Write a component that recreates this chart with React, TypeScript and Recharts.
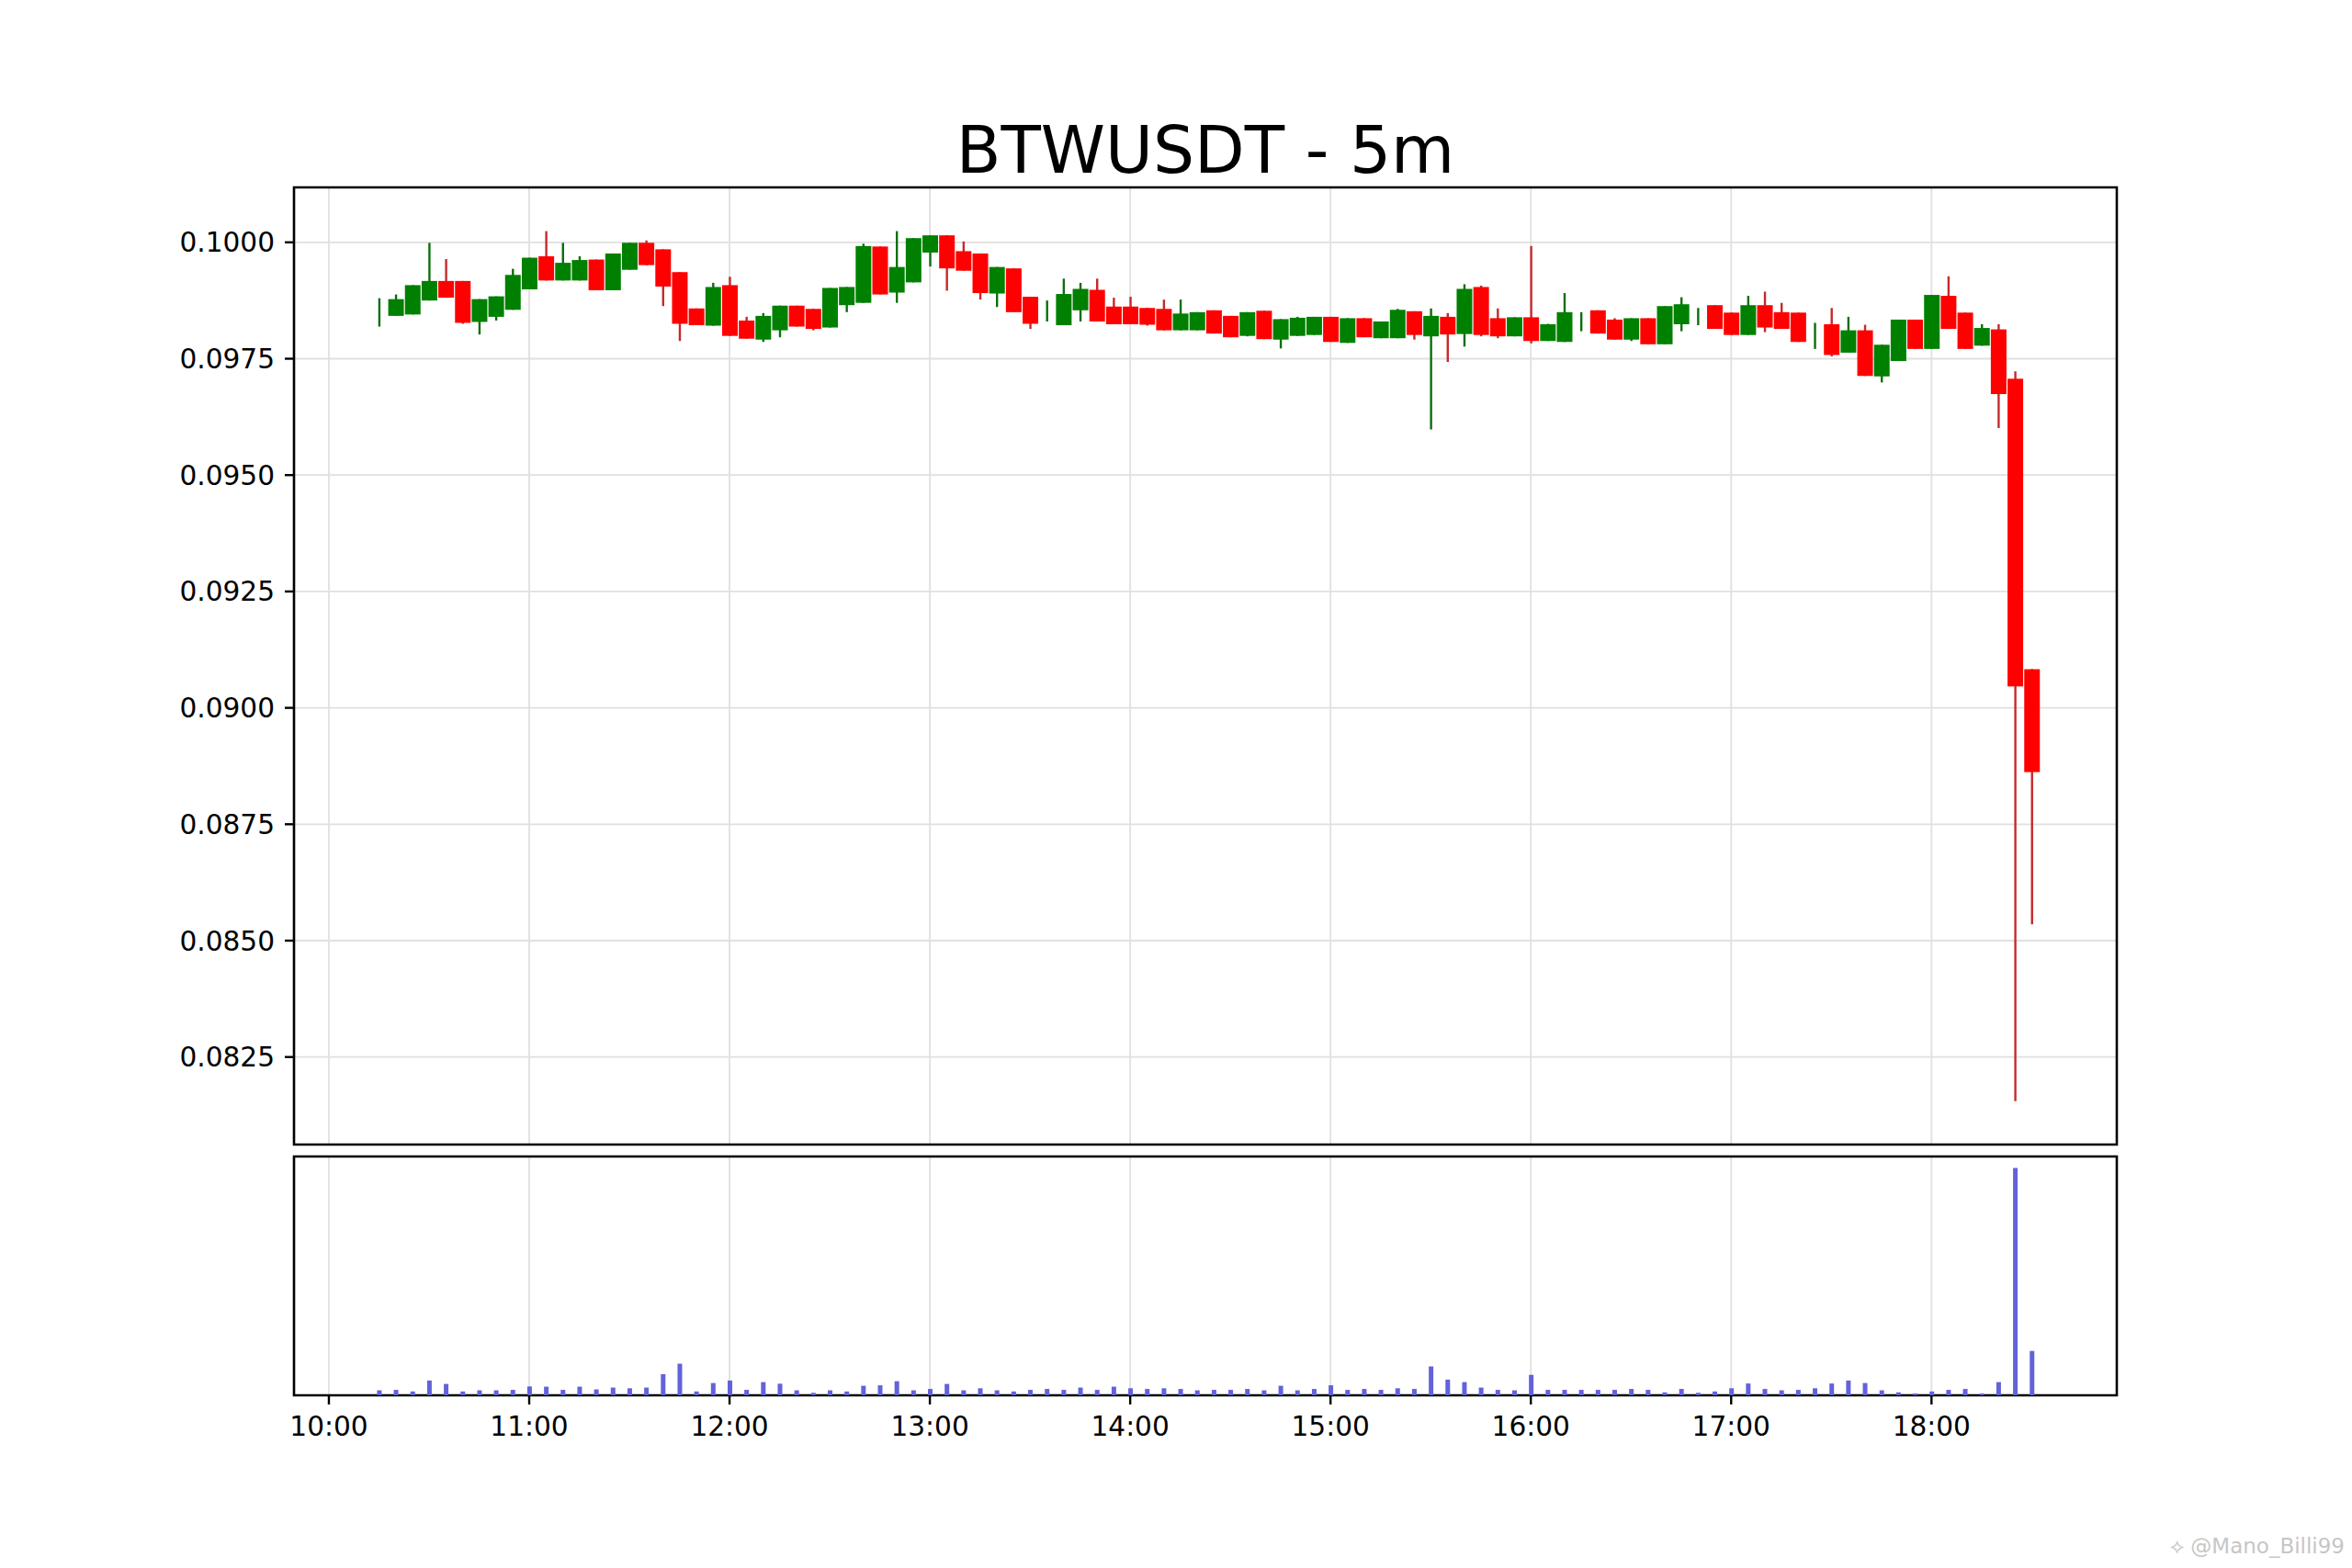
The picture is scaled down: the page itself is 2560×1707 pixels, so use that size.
import React from "react";
import { ComposedChart, Bar, XAxis, YAxis, CartesianGrid, ReferenceArea } from "recharts";

const times = [
  "10:15","10:20","10:25","10:30","10:35","10:40","10:45","10:50","10:55",
  "11:00","11:05","11:10","11:15","11:20","11:25","11:30","11:35","11:40","11:45","11:50","11:55",
  "12:00","12:05","12:10","12:15","12:20","12:25","12:30","12:35","12:40","12:45","12:50","12:55",
  "13:00","13:05","13:10","13:15","13:20","13:25","13:30","13:35","13:40","13:45","13:50","13:55",
  "14:00","14:05","14:10","14:15","14:20","14:25","14:30","14:35","14:40","14:45","14:50","14:55",
  "15:00","15:05","15:10","15:15","15:20","15:25","15:30","15:35","15:40","15:45","15:50","15:55",
  "16:00","16:05","16:10","16:15","16:20","16:25","16:30","16:35","16:40","16:45","16:50","16:55",
  "17:00","17:05","17:10","17:15","17:20","17:25","17:30","17:35","17:40","17:45","17:50","17:55",
  "18:00","18:05","18:10","18:15","18:20","18:25","18:30",
];

const opens = [
  0.09850,0.09842,0.09845,0.09875,0.09917,0.09917,0.09829,0.09840,0.09855,0.09899,
  0.09970,0.09918,0.09918,0.09963,0.09897,0.09941,0.09999,0.09985,0.09936,0.09858,
  0.09821,0.09908,0.09832,0.09791,0.09811,0.09864,0.09857,0.09817,0.09865,0.09870,
  0.09991,0.09892,0.09914,0.09978,0.10015,0.09981,0.09976,0.09890,0.09944,0.09883,
  0.09852,0.09822,0.09854,0.09898,0.09862,0.09862,0.09859,0.09857,0.09811,0.09811,
  0.09854,0.09842,0.09799,0.09853,0.09791,0.09799,0.09801,0.09840,0.09784,0.09837,
  0.09794,0.09794,0.09852,0.09798,0.09840,0.09803,0.09904,0.09837,0.09798,0.09839,
  0.09788,0.09786,0.09830,0.09854,0.09834,0.09791,0.09837,0.09781,0.09824,0.09840,
  0.09865,0.09849,0.09801,0.09865,0.09850,0.09849,0.09800,0.09824,0.09763,0.09811,
  0.09712,0.09745,0.09834,0.09771,0.09885,0.09849,0.09778,0.09813,0.09707,0.09083,
];

const highs = [
  0.09880,0.09888,0.09908,0.09999,0.09964,0.09917,0.09878,0.09884,0.09943,0.09967,
  0.10024,0.09999,0.09970,0.09963,0.09976,0.09999,0.10004,0.09985,0.09936,0.09858,
  0.09913,0.09926,0.09840,0.09848,0.09864,0.09864,0.09857,0.09902,0.09904,0.09997,
  0.09991,0.10024,0.10009,0.10015,0.10015,0.10002,0.09976,0.09947,0.09944,0.09883,
  0.09875,0.09922,0.09913,0.09922,0.09881,0.09883,0.09859,0.09877,0.09877,0.09850,
  0.09854,0.09842,0.09850,0.09853,0.09835,0.09840,0.09840,0.09840,0.09837,0.09837,
  0.09830,0.09857,0.09852,0.09858,0.09848,0.09910,0.09907,0.09858,0.09839,0.09992,
  0.09825,0.09891,0.09850,0.09854,0.09837,0.09837,0.09837,0.09863,0.09882,0.09859,
  0.09865,0.09849,0.09885,0.09894,0.09870,0.09849,0.09827,0.09859,0.09840,0.09823,
  0.09780,0.09834,0.09834,0.09887,0.09927,0.09849,0.09824,0.09824,0.09723,0.09083,
];

const lows = [
  0.09819,0.09842,0.09845,0.09875,0.09881,0.09825,0.09802,0.09832,0.09855,0.09899,
  0.09918,0.09918,0.09918,0.09897,0.09897,0.09941,0.09951,0.09863,0.09788,0.09822,
  0.09821,0.09799,0.09793,0.09786,0.09796,0.09819,0.09811,0.09817,0.09850,0.09870,
  0.09888,0.09870,0.09914,0.09948,0.09896,0.09939,0.09877,0.09861,0.09850,0.09814,
  0.09830,0.09822,0.09830,0.09830,0.09824,0.09824,0.09821,0.09811,0.09811,0.09811,
  0.09804,0.09796,0.09798,0.09792,0.09772,0.09799,0.09801,0.09786,0.09784,0.09796,
  0.09794,0.09794,0.09791,0.09598,0.09743,0.09776,0.09798,0.09794,0.09798,0.09783,
  0.09788,0.09786,0.09809,0.09804,0.09791,0.09788,0.09781,0.09781,0.09809,0.09822,
  0.09814,0.09801,0.09801,0.09807,0.09814,0.09786,0.09771,0.09755,0.09763,0.09713,
  0.09699,0.09745,0.09771,0.09771,0.09814,0.09771,0.09778,0.09601,0.08155,0.08535,
];

const closes = [
  0.09850,0.09878,0.09908,0.09917,0.09881,0.09827,0.09878,0.09884,0.09930,0.09967,
  0.09918,0.09956,0.09962,0.09897,0.09976,0.09999,0.09951,0.09905,0.09825,0.09822,
  0.09904,0.09799,0.09793,0.09842,0.09864,0.09819,0.09814,0.09902,0.09904,0.09992,
  0.09888,0.09947,0.10009,0.10015,0.09944,0.09939,0.09891,0.09947,0.09850,0.09825,
  0.09852,0.09889,0.09900,0.09830,0.09824,0.09824,0.09823,0.09811,0.09847,0.09850,
  0.09804,0.09796,0.09850,0.09792,0.09835,0.09838,0.09840,0.09786,0.09837,0.09796,
  0.09830,0.09855,0.09801,0.09842,0.09802,0.09900,0.09801,0.09798,0.09839,0.09788,
  0.09824,0.09850,0.09830,0.09804,0.09791,0.09837,0.09781,0.09863,0.09867,0.09840,
  0.09814,0.09801,0.09865,0.09817,0.09814,0.09786,0.09800,0.09758,0.09811,0.09713,
  0.09780,0.09834,0.09771,0.09887,0.09814,0.09771,0.09816,0.09674,0.09046,0.08862,
];

const volumes = [
  2.2,2.4,1.7,6.5,5.0,1.7,2.2,2.2,2.4,3.9,
  3.8,2.4,3.8,2.6,3.4,3.1,3.4,9.3,13.9,1.7,
  5.4,6.5,2.4,5.8,5.1,2.2,1.1,2.2,1.7,4.2,
  4.4,6.2,2.2,2.8,5.0,2.2,3.1,2.2,1.7,2.4,
  2.8,2.4,3.4,2.4,3.8,3.1,2.8,3.1,2.8,2.2,
  2.4,2.4,2.8,2.2,4.2,2.2,2.8,4.4,2.4,2.8,
  2.4,3.1,2.8,12.7,6.9,5.8,3.4,2.4,2.2,9.0,
  2.4,2.4,2.4,2.4,2.4,2.8,2.4,1.3,2.8,1.1,
  1.7,3.1,5.2,2.8,2.2,2.4,3.1,5.2,6.5,5.4,
  2.2,1.3,0.8,1.7,2.4,2.8,0.8,5.8,100,19.5,
];

const hourLabels = ["10:00","11:00","12:00","13:00","14:00","15:00","16:00","17:00","18:00"];
const priceTicks = [0.0825, 0.085, 0.0875, 0.09, 0.0925, 0.095, 0.0975, 0.1];

const toMin = (s: string) => {
  const [h, m] = s.split(":").map(Number);
  return (h - 10) * 60 + m;
};

const data = times.map((t, i) => ({
  t: toMin(t),
  label: t,
  open: opens[i],
  high: highs[i],
  low: lows[i],
  close: closes[i],
  volume: volumes[i],
}));

const hourTicks = hourLabels.map(toMin);
const xDomain: [number, number] = [-10.45, 535.5];
const priceDomain: [number, number] = [0.08062, 0.10118];
const volMax = Math.max(...volumes) * 1.05;
const volDomain: [number, number] = [0, volMax];

const FONT = "DejaVu Sans";
const GREEN = "#008000";
const RED = "#ff0000";
const GREEN_WICK = "#0c6e0c";
const RED_WICK = "#c42a2a";
const VOL = "#6262da";
const GRID = "#e0e0e0";

const fmtHour = (m: number) => `${10 + Math.round(m / 60)}:00`;

const Candle = (props: any) => {
  const { x, y, width, height, payload } = props;
  if (!payload) return null;
  const { open, close, high, low } = payload;
  const top = Math.min(y, y + height);
  const h = Math.abs(height);
  const ppu = high > low ? h / (high - low) : 0;
  const yOf = (v: number) => top + (high - v) * ppu;
  const up = close >= open;
  const bTop = yOf(Math.max(open, close));
  const bBot = yOf(Math.min(open, close));
  const cx = x + width / 2;
  return (
    <g>
      <line x1={cx} x2={cx} y1={top} y2={top + h} stroke={up ? GREEN_WICK : RED_WICK} strokeWidth={2.4} />
      {bBot - bTop > 0.5 && (
        <rect x={x} y={bTop} width={width} height={bBot - bTop} fill={up ? GREEN : RED} />
      )}
    </g>
  );
};

const EmptyTick = () => <g />;

const tickStyle = { fontFamily: FONT, fontSize: 29.6, fill: "#000" };

export default function App() {
  return (
    <div style={{ position: "absolute", left: 0, top: 0, width: 2560, height: 1707, background: "#fff", fontFamily: FONT }}>
      <svg width={2560} height={1707} style={{ position: "absolute", left: 0, top: 0 }}>
        <text x={1312} y={188} textAnchor="middle" fontFamily={FONT} fontSize={71} fill="#000">
          BTWUSDT - 5m
        </text>
        <text x={2552} y={1691} textAnchor="end" fontFamily={FONT} fontSize={23} fill="#c6c6c6">
          ⟡ @Mano_Billi99
        </text>
      </svg>

      <div style={{ position: "absolute", left: 0, top: 0 }}>
        <ComposedChart width={2560} height={1250} data={data} margin={{ top: 204, right: 256, bottom: 4, left: 0 }}>
          <CartesianGrid stroke={GRID} strokeWidth={1.8} />
          <XAxis
            dataKey="t"
            type="number"
            domain={xDomain}
            allowDataOverflow
            ticks={hourTicks}
            tick={<EmptyTick />}
            tickLine={false}
            axisLine={false}
            height={0}
          />
          <YAxis
            type="number"
            domain={priceDomain}
            allowDataOverflow
            ticks={priceTicks}
            tickFormatter={(v: number) => v.toFixed(4)}
            width={320}
            tick={tickStyle}
            tickSize={10}
            tickMargin={11}
            tickLine={{ stroke: "#000", strokeWidth: 2.4 }}
            axisLine={false}
          />
          <Bar
            dataKey={(d: any) => [d.low, d.high]}
            barSize={17}
            shape={<Candle />}
            isAnimationActive={false}
          />
          <ReferenceArea
            x1={xDomain[0]}
            x2={xDomain[1]}
            y1={priceDomain[0]}
            y2={priceDomain[1]}
            fill="none"
            fillOpacity={0}
            stroke="#000"
            strokeWidth={2.6}
            ifOverflow="visible"
          />
        </ComposedChart>
      </div>

      <div style={{ position: "absolute", left: 0, top: 1250 }}>
        <ComposedChart width={2560} height={350} data={data} margin={{ top: 9, right: 256, bottom: 0, left: 0 }}>
          <CartesianGrid stroke={GRID} strokeWidth={1.8} horizontal={false} />
          <XAxis
            dataKey="t"
            type="number"
            domain={xDomain}
            allowDataOverflow
            ticks={hourTicks}
            tickFormatter={fmtHour}
            tick={tickStyle}
            tickSize={10}
            tickMargin={13}
            tickLine={{ stroke: "#000", strokeWidth: 2.4 }}
            axisLine={false}
            height={81}
          />
          <YAxis type="number" domain={volDomain} allowDataOverflow width={320} tick={false} tickLine={false} axisLine={false} />
          <Bar dataKey="volume" barSize={5} fill={VOL} isAnimationActive={false} />
          <ReferenceArea
            x1={xDomain[0]}
            x2={xDomain[1]}
            y1={volDomain[0]}
            y2={volDomain[1]}
            fill="none"
            fillOpacity={0}
            stroke="#000"
            strokeWidth={2.6}
            ifOverflow="visible"
          />
        </ComposedChart>
      </div>
    </div>
  );
}
